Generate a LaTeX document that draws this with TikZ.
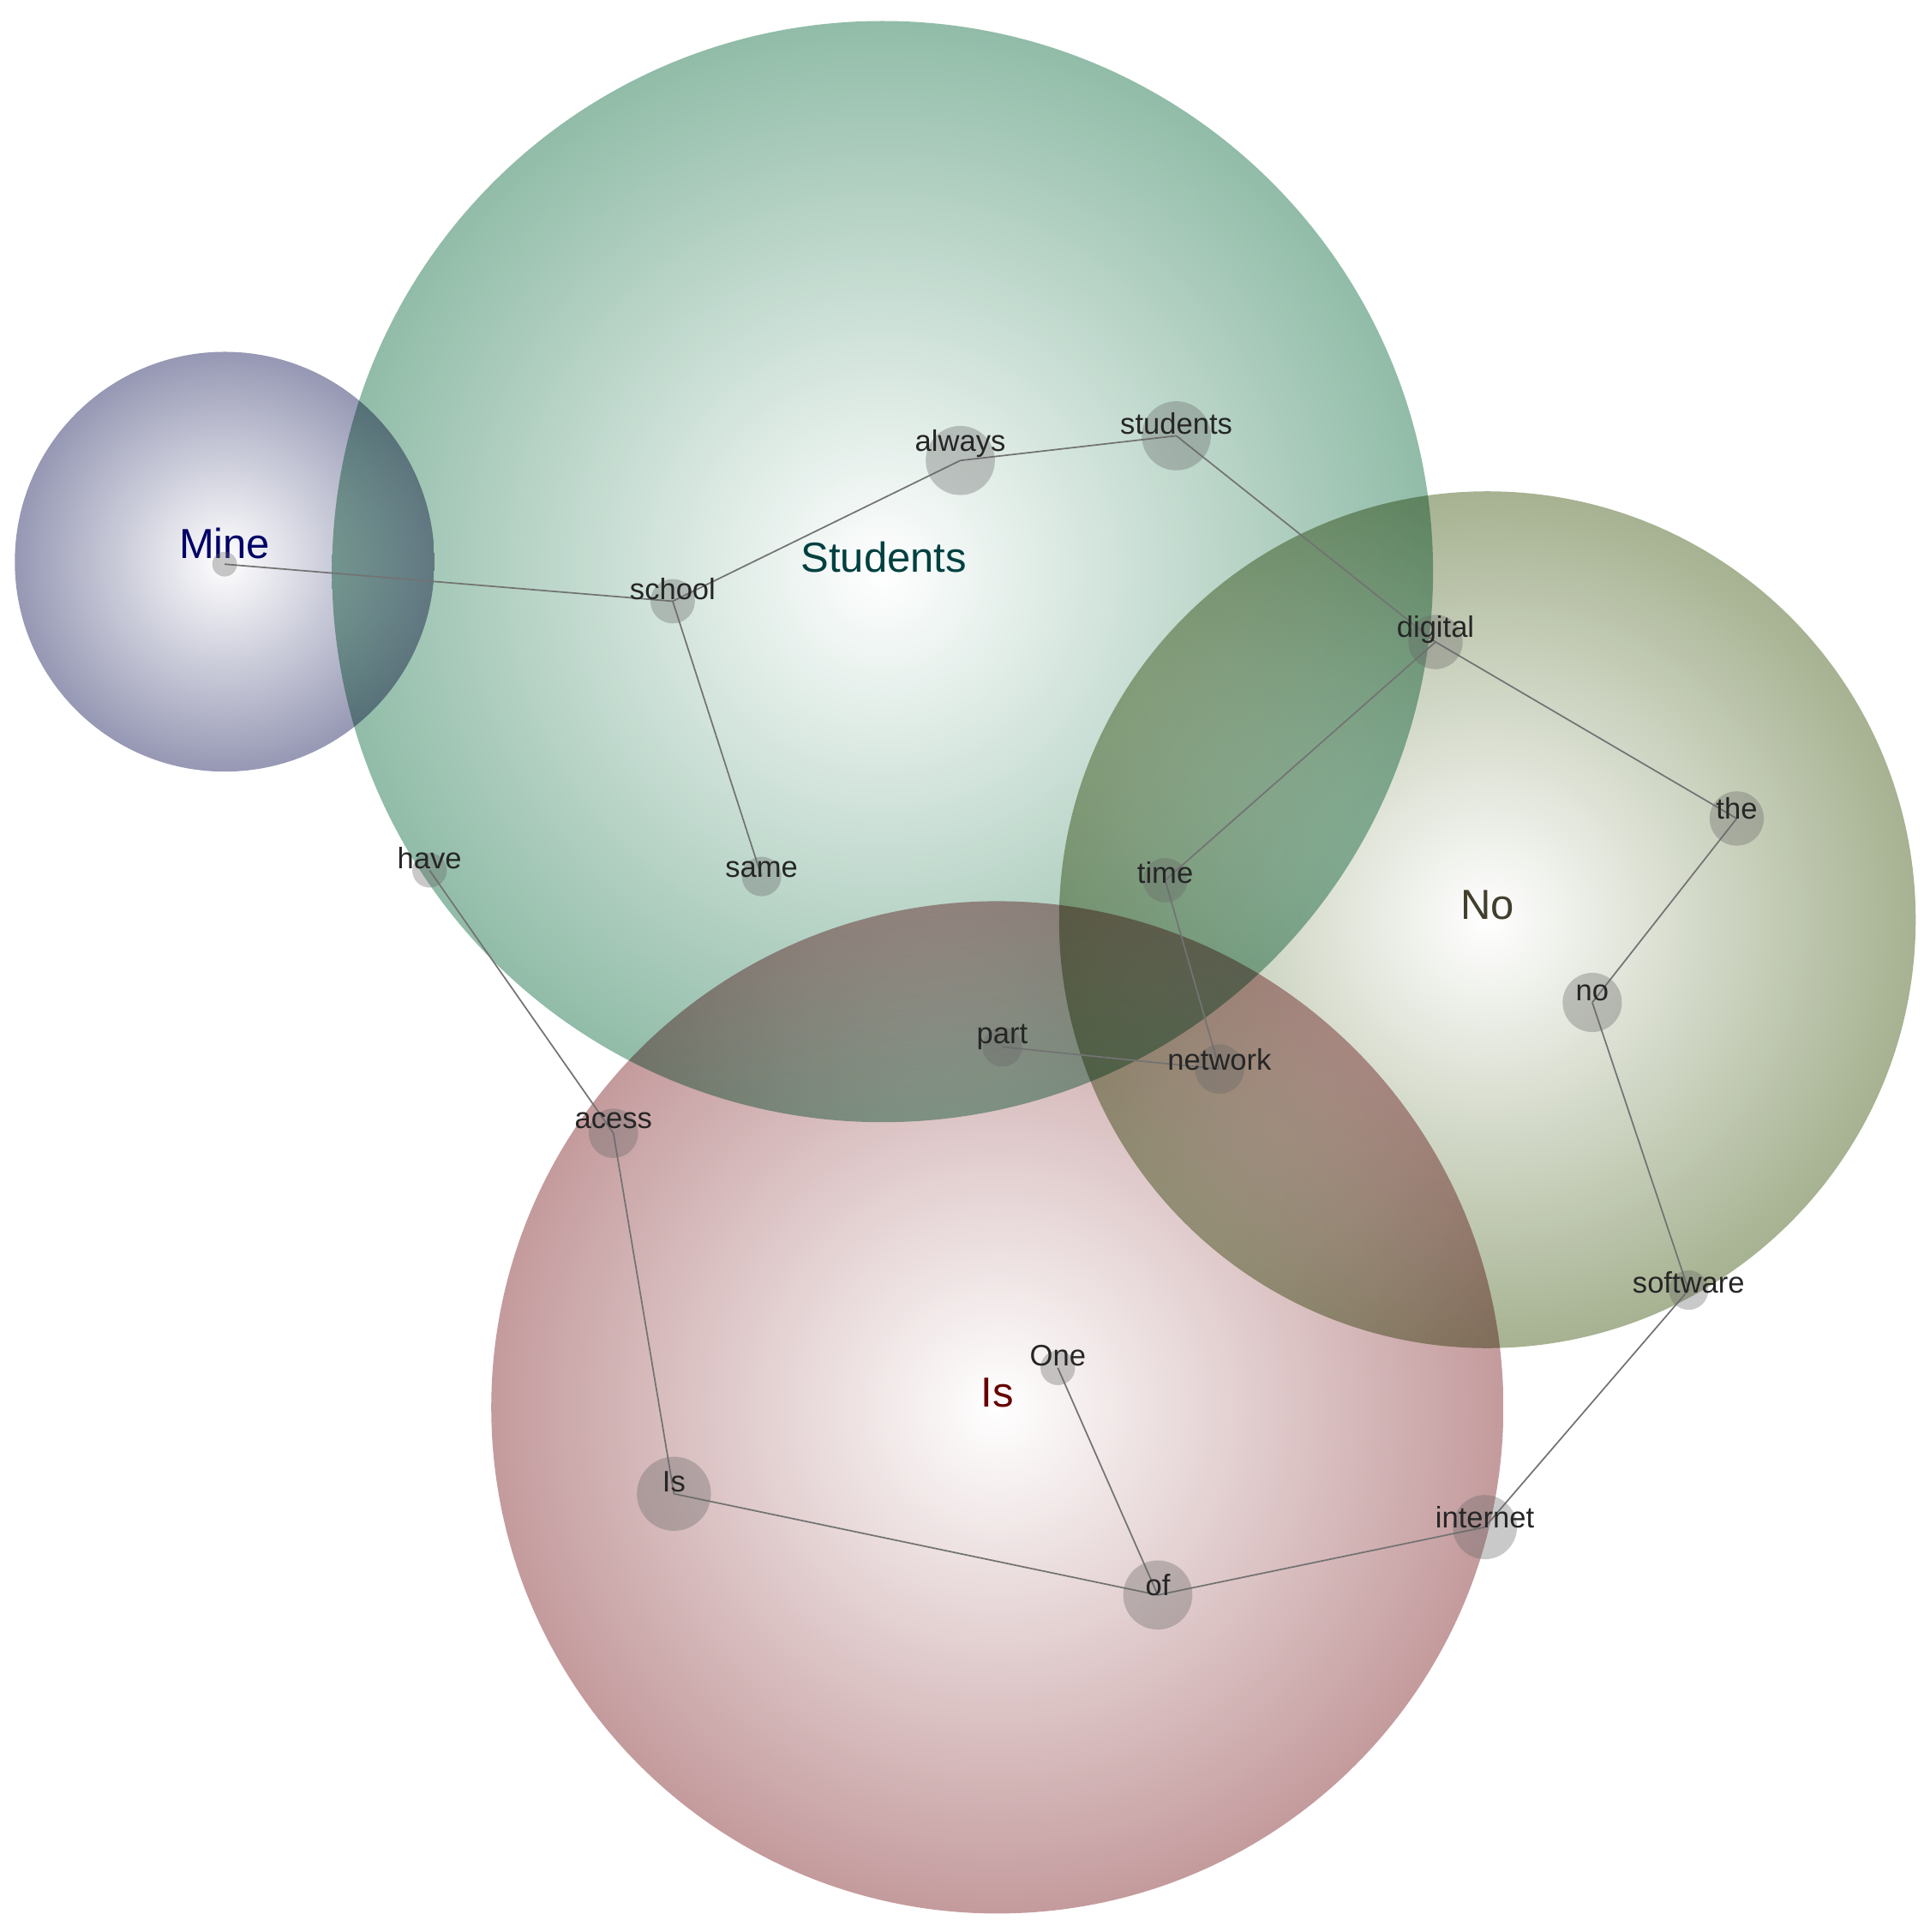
\documentclass[tikz,border=0pt]{standalone}
\usepackage{fontspec}
\setmainfont{Liberation Sans}
\definecolor{cmine}{RGB}{150,152,180}
\definecolor{cstud}{RGB}{145,188,168}
\definecolor{cno}{RGB}{166,178,145}
\definecolor{cis}{RGB}{196,155,157}
\begin{document}
\begin{tikzpicture}[x=0.5pt,y=-0.5pt,
  edge/.style={draw=black!55,line width=0.6pt},
  dot/.style={fill=black!60,fill opacity=0.35},
  lbl/.style={font=\fontsize{12}{12}\selectfont,text=black!85},
  big/.style={font=\fontsize{17}{17}\selectfont}]
\useasboundingbox (0,0) rectangle (1563,1565);
\fill[white] (0,0) rectangle (1563,1565);
% big spheres
\begin{scope}[blend group=multiply]
\shade[inner color=white,outer color=cmine] (182,455) circle (170);
\shade[inner color=white,outer color=cstud] (715,463) circle (446);
\shade[inner color=white,outer color=cno] (1205,745) circle (347);
\shade[inner color=white,outer color=cis] (808,1140) circle (410);
\end{scope}
\node[big,text=blue!40!black] (tMine) at (182,440) {Mine};
\node[big,text=teal!50!black] (tStud) at (716,451) {Students};
\node[big,text=olive!30!black] (tNo) at (1205,733) {No};
\node[big,text=red!40!black] (tIs) at (808,1128) {Is};
% word coordinates
\coordinate (mine) at (182,457);
\coordinate (school) at (545,487);
\coordinate (always) at (778,373);
\coordinate (students) at (953,353);
\coordinate (digital) at (1163,520);
\coordinate (the) at (1407,663);
\coordinate (no) at (1290,812);
\coordinate (software) at (1368,1045);
\coordinate (internet) at (1203,1237);
\coordinate (of) at (938,1292);
\coordinate (is) at (546,1210);
\coordinate (acess) at (497,918);
\coordinate (have) at (348,705);
\coordinate (one) at (857,1108);
\coordinate (same) at (617,710);
\coordinate (time) at (944,713);
\coordinate (network) at (988,866);
\coordinate (part) at (812,848);
% edges
\foreach \a/\b in {mine/school,school/always,always/students,students/digital,digital/time,digital/the,the/no,no/software,software/internet,internet/of,of/is,of/one,is/acess,acess/have,school/same,time/network,network/part}
  \draw[edge] (\a) -- (\b);
% dots
\foreach \c/\r in {mine/10,school/18,always/28,students/28,digital/22,the/22,no/24,software/16,internet/26,of/28,is/30,acess/20,have/14,one/14,same/16,time/18,network/20,part/16}
  \fill[dot] (\c) circle (\r);
% labels
\node[lbl] (lschool) at ([yshift=5pt]school) {school};
\node[lbl] (lalways) at ([yshift=7pt]always) {always};
\node[lbl] (lstudents) at ([yshift=5pt]students) {students};
\node[lbl] (ldigital) at ([yshift=5pt]digital) {digital};
\node[lbl] (lthe) at ([yshift=4pt]the) {the};
\node[lbl] (lno) at ([yshift=4pt]no) {no};
\node[lbl] (lsoftware) at ([yshift=3pt]software) {software};
\node[lbl] (linternet) at ([yshift=4pt]internet) {internet};
\node[lbl] (lof) at ([yshift=4pt]of) {of};
\node[lbl] (lis) at ([yshift=5pt]is) {Is};
\node[lbl] (lacess) at ([yshift=5pt]acess) {acess};
\node[lbl] (lhave) at ([yshift=5pt]have) {have};
\node[lbl] (lone) at ([yshift=5pt]one) {One};
\node[lbl] (lsame) at ([yshift=3pt]same) {same};
\node[lbl] (ltime) at ([yshift=3pt]time) {time};
\node[lbl] (lnetwork) at ([yshift=4pt]network) {network};
\node[lbl] (lpart) at ([yshift=4pt]part) {part};
\end{tikzpicture}
\end{document}
